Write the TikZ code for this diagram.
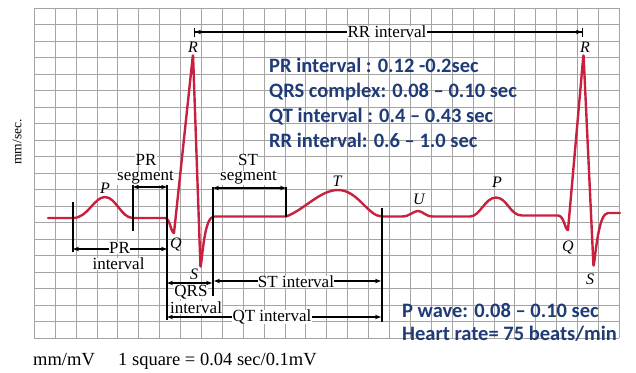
\documentclass[tikz,border=0pt]{standalone}
\usepackage{fontspec}
\setmainfont{Liberation Serif}
\newfontfamily\calb{Carlito}
\usetikzlibrary{arrows.meta}
\definecolor{ecgred}{HTML}{C8213F}
\definecolor{gridc}{HTML}{A4A4A4}
\definecolor{navy}{HTML}{1F3C78}
\begin{document}
\begin{tikzpicture}[x=1pt,y=-1pt,
  lbl/.style={font=\fontsize{17}{17}\selectfont, inner sep=0.2pt},
  lblw/.style={lbl, fill=white},
  wave/.style={font=\fontsize{16}{16}\selectfont\itshape, inner sep=0pt},
  info/.style={font=\calb\bfseries\fontsize{20.5}{20.5}\selectfont, text=navy, anchor=base west, inner sep=0pt},
  dimline/.style={line width=1.1pt, {Stealth[length=6pt,width=4.5pt]}-{Stealth[length=6pt,width=4.5pt]}},
  rrline/.style={line width=1.1pt, {Bar[width=9pt]Stealth[length=6pt,width=4.5pt]}-{Stealth[length=6pt,width=4.5pt]Bar[width=9pt]}},
  vbar/.style={line width=1.3pt},
  ecg/.style={ecgred, line width=2.4pt, line join=round, line cap=round},
  gridline/.style={gridc, line width=0.9pt}
]
\useasboundingbox (0,0) rectangle (636,372);
\fill[white] (0,0) rectangle (636,372);
% grid
\foreach \i in {0,...,28} {
  \draw[gridline] ({34.3+\i*20.893},8.3) -- ({34.3+\i*20.893},338);
}
\foreach \j in {0,...,20} {
  \draw[gridline] (34.3,{8.3+\j*16.485}) -- (619.3,{8.3+\j*16.485});
}
% ECG trace
\draw[ecg] (48,218) -- (73,218)
  .. controls (88,218) and (94,197) .. (105,197)
  .. controls (116,197) and (121,218) .. (133,218) -- (165,218)
  .. controls (170,218) and (171,233) .. (174,233)
  [rounded corners=2.5pt] -- (193,54) -- (200.5,268) [sharp corners]
  .. controls (203,250) and (205,217) .. (214,216.5) -- (286,216.5)
  .. controls (304,210) and (320,190) .. (338,190)
  .. controls (358,190) and (368,216.5) .. (382,216.5) -- (402,216.5)
  .. controls (410,216.5) and (413,211) .. (418,211)
  .. controls (423,211) and (425,216.5) .. (433,216.5) -- (470,216.5)
  .. controls (480,216.5) and (485,197.5) .. (496,197.5)
  .. controls (507,197.5) and (510,215.5) .. (522,215.5) -- (558,215.5)
  .. controls (564,215.5) and (565,230) .. (568,230)
  [rounded corners=2.5pt] -- (583.5,54) -- (593.5,267) [sharp corners]
  .. controls (596,250) and (599,213) .. (608,213) -- (620,213);
% vertical markers
\coordinate (v1t) at (73,202); \coordinate (v1b) at (73,252);
\coordinate (v2t) at (133,185); \coordinate (v2b) at (133,231);
\coordinate (v3t) at (167,185); \coordinate (v3b) at (167,320);
\coordinate (v4t) at (213,187); \coordinate (v4b) at (213,296);
\coordinate (v5t) at (286,187); \coordinate (v5b) at (286,217);
\coordinate (v6t) at (382,208); \coordinate (v6b) at (382,322);
\draw[vbar] (v1t) -- (v1b);
\draw[vbar] (v2t) -- (v2b);
\draw[vbar] (v3t) -- (v3b);
\draw[vbar] (v4t) -- (v4b);
\draw[vbar] (v5t) -- (v5b);
\draw[vbar] (v6t) -- (v6b);
% dimension endpoints
\coordinate (prsA) at (133,187); \coordinate (prsB) at (167,187);
\coordinate (stsA) at (213,188); \coordinate (stsB) at (286,188);
\coordinate (priA) at (73,249); \coordinate (priB) at (167,249);
\coordinate (qrsA) at (167,283); \coordinate (qrsB) at (212,283);
\coordinate (stiA) at (214,281); \coordinate (stiB) at (381,281);
\coordinate (qtiA) at (167,317); \coordinate (qtiB) at (381,317);
\coordinate (rrA) at (194,32); \coordinate (rrB) at (583,32);
\draw[dimline] (prsA) -- (prsB);
\draw[dimline] (stsA) -- (stsB);
\draw[dimline] (priA) -- (priB);
\draw[dimline] (qrsA) -- (qrsB);
\draw[dimline] (stiA) -- (stiB);
\draw[dimline] (qtiA) -- (qtiB);
\draw[rrline] (rrA) -- (rrB);
% dimension labels
\node[lblw] (prsegT) at (146,159.5) {PR};
\node[lblw] (prsegB) at (145.5,178) {segment};
\node[lblw] (stsegT) at (248,159.5) {ST};
\node[lblw] (stsegB) at (248.5,178) {segment};
\node[lblw] (priT) at (119.5,248) {PR};
\node[lblw] (priB2) at (118.5,264) {interval};
\node[lblw] (qrsT) at (191,292) {QRS};
\node[lblw] (qrsB2) at (196,307.5) {interval};
\node[lblw] (stiL) at (296,282) {ST interval};
\node[lblw] (qtiL) at (272,317) {QT interval};
\node[lblw] (rrL) at (387,32) {RR interval};
% wave letters
\node[wave] (P1) at (105,188) {P};
\node[wave] (Q1) at (176,244) {Q};
\node[wave] (R1) at (193,47) {R};
\node[wave] (S1) at (194,274) {S};
\node[wave] (T1) at (337,181) {T};
\node[wave] (U1) at (419,199) {U};
\node[wave] (P2) at (497,182) {P};
\node[wave] (Q2) at (568,247) {Q};
\node[wave] (R2) at (585,47) {R};
\node[wave] (S2) at (590,279) {S};
% info text
\node[info] (i1) at (269,72) {PR interval : 0.12 -0.2sec};
\node[info] (i2) at (269,97) {QRS complex: 0.08 – 0.10 sec};
\node[info] (i3) at (269,122) {QT interval : 0.4 – 0.43 sec};
\node[info] (i4) at (269,147) {RR interval: 0.6 – 1.0 sec};
\node[info] (i5) at (402,317) {P wave: 0.08 – 0.10 sec};
\node[info] (i6) at (402,340) {Heart rate= 75 beats/min};
% axis texts
\node[font=\fontsize{13.5}{13.5}\selectfont, rotate=90, inner sep=0pt] (ax1) at (17,142) {mm/sec.};
\node[font=\fontsize{18.5}{18.5}\selectfont, anchor=base west, inner sep=0pt] (ax2) at (33,365) {mm/mV};
\node[font=\fontsize{18.5}{18.5}\selectfont, anchor=base west, inner sep=0pt] (ax3) at (118,365) {1 square = 0.04 sec/0.1mV};
\end{tikzpicture}
\end{document}
